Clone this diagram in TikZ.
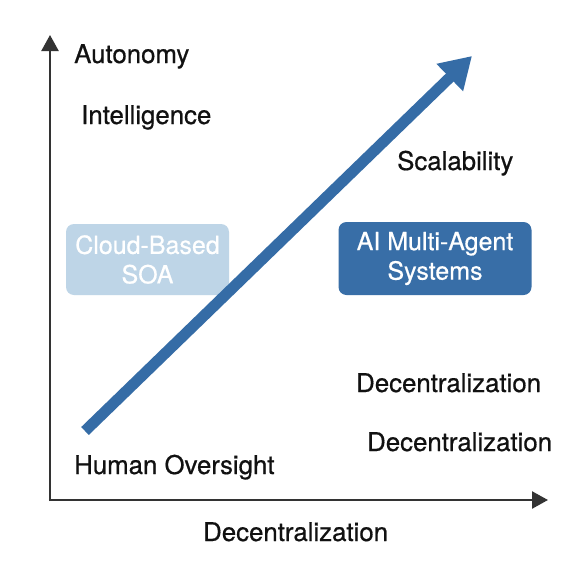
\documentclass[tikz,border=0pt]{standalone}
\usepackage{fontspec}
\setmainfont{TeX Gyre Heros}[FakeBold=0.6]
\usetikzlibrary{arrows.meta}
\definecolor{axisgray}{HTML}{333333}
\definecolor{arrowblue}{HTML}{356CA6}
\definecolor{lightbox}{HTML}{BED5E7}
\definecolor{darkbox}{HTML}{386EA7}
\definecolor{txt}{HTML}{111111}
\tikzset{
  lbl/.style={anchor=base west, inner sep=0pt, text=txt, font=\fontsize{25.8}{30}\selectfont},
  boxnode/.style={rounded corners=8pt, inner sep=0pt, align=center, text=white,
    font=\fontsize{25}{29.5}\selectfont},
  axisline/.style={line width=2.4pt, draw=axisgray, -{Triangle[length=16pt,width=17pt]}},
  trendarrow/.style={line width=11pt, draw=arrowblue, -{Triangle[length=31pt,width=36pt]}},
}
\begin{document}
\begin{tikzpicture}[x=1pt,y=-1pt]
\useasboundingbox[fill=white] (0,0) rectangle (576,576);
% axes
\coordinate (origin) at (50,500);
\coordinate (ytip) at (50,35);
\coordinate (xtip) at (548,500);
\draw[axisline] ([yshift=-1.2pt]origin) -- (ytip);
\draw[axisline] ([xshift=-1.2pt]origin) -- (xtip);
% boxes
\node[boxnode, fill=lightbox, minimum width=163pt, minimum height=71pt] (soa) at (147.5,259.5) {Cloud-Based\\SOA};
\node[boxnode, fill=darkbox, minimum width=193pt, minimum height=73pt] (mas) at (435,258.5) {AI Multi-Agent\\Systems};
% trend arrow
\coordinate (astart) at (85,431);
\coordinate (aend) at (472,56);
\draw[trendarrow] (astart) -- (aend);
% labels
\node[lbl] (autonomy) at (74,63) {Autonomy};
\node[lbl] (intel) at (81,124) {Intelligence};
\node[lbl] (scal) at (397,170) {Scalability};
\node[lbl] (dec1) at (356,392) {Decentralization};
\node[lbl] (dec2) at (367,451) {Decentralization};
\node[lbl] (human) at (74,474) {Human Oversight};
\node[lbl] (decx) at (203,541) {Decentralization};
\end{tikzpicture}
\end{document}
